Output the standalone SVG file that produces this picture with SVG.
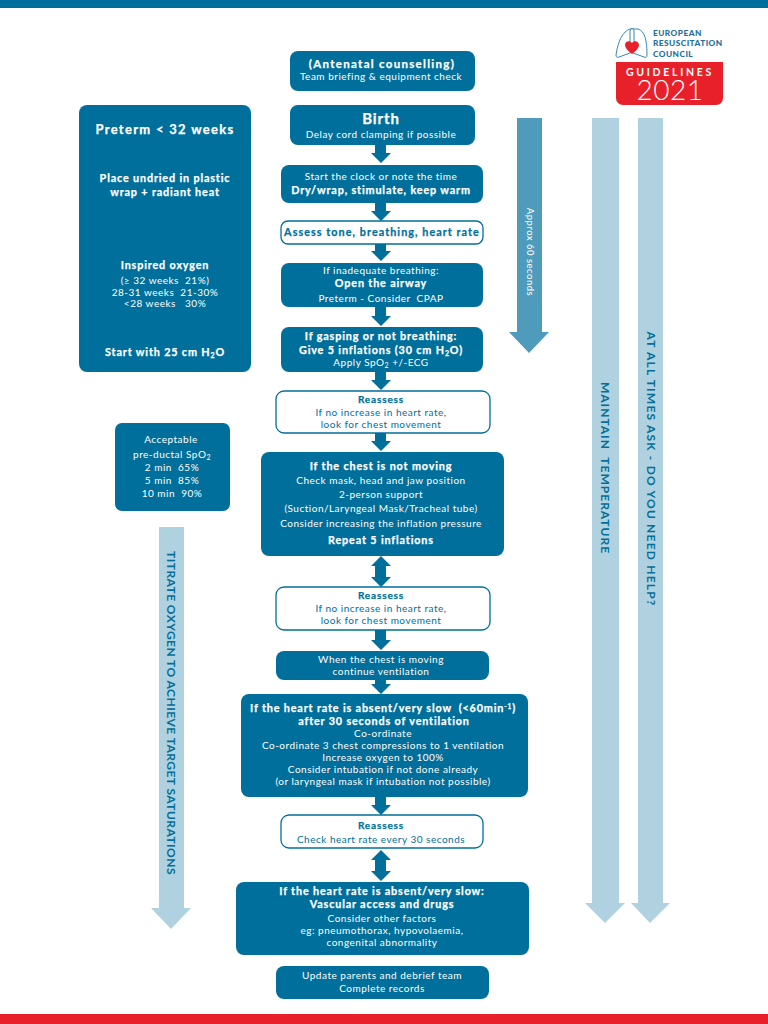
<svg xmlns="http://www.w3.org/2000/svg" width="768" height="1024" viewBox="0 0 768 1024">
<style>
text{font-family:"Lato","Liberation Sans",sans-serif;text-anchor:middle;fill:#fff;white-space:pre}
.box{fill:#006f9b}
.out{fill:#fff;stroke:#006f9b;stroke-width:1.3}
.n{font-size:10px;letter-spacing:.5px}
.b{font-size:10.8px;font-weight:700;letter-spacing:.85px;stroke:#fff;stroke-width:.25px}
.b.d{stroke:#006f9b}
.d{fill:#006f9b}
.arr{fill:#006f9b}
.pale{fill:#b0d2e0}
.side{font-size:12px;font-weight:700;fill:#006f9b;letter-spacing:1px}
.lg{text-anchor:start;fill:#1f6f9c;letter-spacing:.45px;font-size:8.3px;font-weight:900}
</style>
<rect width="768" height="8" fill="#006f9b"/>
<rect y="1014" width="768" height="10" fill="#e8202a"/>

<g id="connectors">
<path id="a1" class="arr" d="M375 145h11v8h5l-10 10-10-10h4z"/>
<path id="a2" class="arr" d="M375 203h11v8h5l-10 10-10-10h4z"/>
<path id="a3" class="arr" d="M375 244h11v7h5l-10 10-10-10h4z"/>
<path id="a4" class="arr" d="M375 307h11v9h5l-10 10-10-10h4z"/>
<path id="a5" class="arr" d="M375 372h11v8h5l-10 10-10-10h4z"/>
<path id="a6" class="arr" d="M375 433h11v8h5l-10 10-10-10h4z"/>
<path id="a7" class="arr" d="M381 556l10 10h-5v11h5l-10 10-10-10h4v-11h-4z"/>
<path id="a8" class="arr" d="M375 630h11v10h5l-10 10-10-10h4z"/>
<path id="a9" class="arr" d="M375 680h11v4h5l-10 10-10-10h4z"/>
<path id="a10" class="arr" d="M375 797h11v8h5l-10 10-10-10h4z"/>
<path id="a11" class="arr" d="M381 850l10 10h-5v11h5l-10 10-10-10h4v-11h-4z"/>
<path id="big60" fill="#4f9bbc" d="M517 118h25v214h7l-20 21-20-21h8z"/>
<path id="bigTemp" class="pale" d="M592 118h27v785h6l-20 20-20-20h7z"/>
<path id="bigHelp" class="pale" d="M638 118h25v785h7l-20 20-19-20h7z"/>
<path id="bigO2" class="pale" d="M159 527h25v381h7l-20 21-20-21h8z"/>
</g>

<text class="n" transform="translate(527,252) rotate(90)" style="font-size:9.5px">Approx 60 seconds</text>
<text class="side" transform="translate(601,468) rotate(90)">MAINTAIN  TEMPERATURE</text>
<text class="side" transform="translate(647,469) rotate(90)" style="letter-spacing:1.2px">AT ALL TIMES ASK - DO YOU NEED HELP?</text>
<text class="side" transform="translate(167,713) rotate(90)" style="letter-spacing:.45px">TITRATE OXYGEN TO ACHIEVE TARGET SATURATIONS</text>

<g id="antenatal"><rect class="box" x="290" y="51" width="185" height="40" rx="8"/>
<text class="b" x="382" y="68" style="font-size:11.5px;letter-spacing:1.3px">(Antenatal counselling)</text>
<text class="n" x="381" y="80">Team briefing &amp; equipment check</text></g>

<g id="birth"><rect class="box" x="290" y="105" width="185" height="40" rx="8"/>
<text class="b" x="381" y="124" style="font-size:15px">Birth</text>
<text class="n" x="381" y="138">Delay cord clamping if possible</text></g>

<g id="start"><rect class="box" x="281" y="165" width="202" height="38" rx="8"/>
<text class="n" x="381" y="180">Start the clock or note the time</text>
<text class="b" x="381" y="194">Dry/wrap, stimulate, keep warm</text></g>

<g id="assess"><rect class="out" x="281" y="221" width="202" height="23" rx="7"/>
<text class="b d" x="382" y="236" style="letter-spacing:1.05px">Assess tone, breathing, heart rate</text></g>

<g id="airway"><rect class="box" x="281" y="263" width="202" height="44" rx="8"/>
<text class="n" x="381" y="274">If inadequate breathing:</text>
<text class="b" x="381" y="287">Open the airway</text>
<text class="n" x="381" y="302">Preterm - Consider  CPAP</text></g>

<g id="inflations"><rect class="box" x="281" y="327" width="202" height="45" rx="8"/>
<text class="b" x="381" y="340">If gasping or not breathing:</text>
<text class="b" x="381" y="354">Give 5 inflations (30 cm H<tspan font-size="7" dy="2">2</tspan><tspan dy="-2">O)</tspan></text>
<text class="n" x="381" y="366">Apply SpO<tspan font-size="7" dy="2">2</tspan><tspan dy="-2"> +/-ECG</tspan></text></g>

<g id="reassess1"><rect class="out" x="276" y="391" width="214" height="42" rx="8"/>
<text class="b d" x="381" y="403" style="font-size:10px">Reassess</text>
<text class="n d" x="381" y="416">If no increase in heart rate,</text>
<text class="n d" x="381" y="428">look for chest movement</text></g>

<g id="chest"><rect class="box" x="261" y="452" width="243" height="104" rx="8"/>
<text class="b" x="381" y="470">If the chest is not moving</text>
<text class="n" x="381" y="484">Check mask, head and jaw position</text>
<text class="n" x="381" y="498">2-person support</text>
<text class="n" x="381" y="512">(Suction/Laryngeal Mask/Tracheal tube)</text>
<text class="n" x="381" y="527">Consider increasing the inflation pressure</text>
<text class="b" x="381" y="544">Repeat 5 inflations</text></g>

<g id="reassess2"><rect class="out" x="276" y="587" width="214" height="43" rx="8"/>
<text class="b d" x="381" y="599" style="font-size:10px">Reassess</text>
<text class="n d" x="381" y="612">If no increase in heart rate,</text>
<text class="n d" x="381" y="624">look for chest movement</text></g>

<g id="moving"><rect class="box" x="276" y="651" width="213" height="29" rx="8"/>
<text class="n" x="381" y="663">When the chest is moving</text>
<text class="n" x="381" y="675">continue ventilation</text></g>

<g id="compressions"><rect class="box" x="241" y="694" width="287" height="103" rx="8"/>
<text class="b" x="383" y="712">If the heart rate is absent/very slow  (&lt;60min<tspan font-size="6.5" dy="-3">-1</tspan><tspan dy="3">)</tspan></text>
<text class="b" x="384" y="725">after 30 seconds of ventilation</text>
<text class="n" x="383" y="737">Co-ordinate</text>
<text class="n" x="383" y="749">Co-ordinate 3 chest compressions to 1 ventilation</text>
<text class="n" x="383" y="761">Increase oxygen to 100%</text>
<text class="n" x="383" y="773">Consider intubation if not done already</text>
<text class="n" x="383" y="785">(or laryngeal mask if intubation not possible)</text></g>

<g id="reassess3"><rect class="out" x="281" y="815" width="202" height="33" rx="8"/>
<text class="b d" x="381" y="829" style="font-size:10px">Reassess</text>
<text class="n d" x="381" y="843">Check heart rate every 30 seconds</text></g>

<g id="drugs"><rect class="box" x="236" y="882" width="293" height="73" rx="8"/>
<text class="b" x="382" y="895">If the heart rate is absent/very slow:</text>
<text class="b" x="382" y="908">Vascular access and drugs</text>
<text class="n" x="382" y="922">Consider other factors</text>
<text class="n" x="382" y="934">eg: pneumothorax, hypovolaemia,</text>
<text class="n" x="382" y="946">congenital abnormality</text></g>

<g id="update"><rect class="box" x="276" y="966" width="213" height="33" rx="8"/>
<text class="n" x="382" y="979">Update parents and debrief team</text>
<text class="n" x="382" y="992">Complete records</text></g>

<g id="preterm"><rect class="box" x="79" y="105" width="172" height="267" rx="8"/>
<text class="b" x="165" y="134" style="font-size:13px;letter-spacing:1.3px">Preterm &lt; 32 weeks</text>
<text class="b" x="165" y="182">Place undried in plastic</text>
<text class="b" x="165" y="196">wrap + radiant heat</text>
<text class="b" x="165" y="269">Inspired oxygen</text>
<text class="n" x="165" y="284">(≥ 32 weeks  21%)</text>
<text class="n" x="165" y="296">28-31 weeks  21-30%</text>
<text class="n" x="165" y="307">&lt;28 weeks   30%</text>
<text class="b" x="165" y="356">Start with 25 cm H<tspan font-size="7" dy="2">2</tspan><tspan dy="-2">O</tspan></text></g>

<g id="spo2"><rect class="box" x="115" y="423" width="115" height="88" rx="7"/>
<text class="n" x="171" y="443">Acceptable</text>
<text class="n" x="172" y="458">pre-ductal SpO<tspan font-size="7" dy="2">2</tspan></text>
<text class="n" x="172" y="471">2 min  65%</text>
<text class="n" x="172" y="484">5 min  85%</text>
<text class="n" x="172" y="497">10 min  90%</text></g>

<g id="logo">
<path d="M630 29c-7 2-12 12-14 26 0 2 1 3 3 2l11-4c3-1 4-3 4-6V31c0-2-2-3-4-2zM638 29c7 2 9 12 9 26 0 2-1 3-3 2l-11-4c-2-1-3-3-3-6V31c0-2 2-3 4-2z" fill="#fff" stroke="#3d86ad" stroke-width="1"/>
<path d="M632 54c-4-3-7-6-7-9 0-4 5-5 7-2 2-3 7-2 7 2 0 3-3 6-7 9z" fill="#e8202a"/>
<text class="lg" x="653" y="36">EUROPEAN</text>
<text class="lg" x="653" y="46">RESUSCITATION</text>
<text class="lg" x="653" y="57">COUNCIL</text>
<path d="M616 62h107v36a7 7 0 0 1-7 7h-93a7 7 0 0 1-7-7z" fill="#e8202a"/>
<text x="670" y="76" style="font-size:10.5px;font-weight:700;letter-spacing:2.7px">GUIDELINES</text>
<text x="670" y="100" style="font-size:28px;font-weight:300;letter-spacing:.5px">2021</text>
</g>
</svg>
